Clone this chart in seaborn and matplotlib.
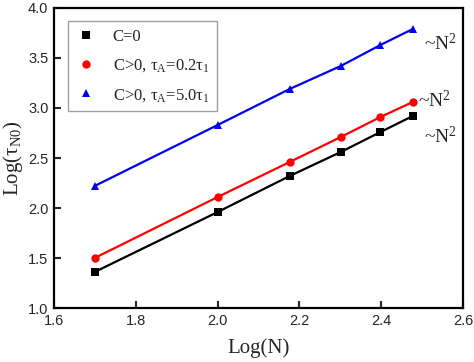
import matplotlib
matplotlib.use("Agg")
import matplotlib.pyplot as plt
from matplotlib.lines import Line2D
import seaborn as sns
import pandas as pd
import numpy as np

log_n = [1.699, 2.000, 2.176, 2.301, 2.398, 2.477]
c0 = [1.36, 1.96, 2.32, 2.56, 2.76, 2.92]
c_02 = [1.50, 2.11, 2.46, 2.71, 2.91, 3.06]
c_50 = [2.22, 2.83, 3.19, 3.42, 3.63, 3.79]
series_names = ["C=0", r"C>0, τ$_\mathrm{A}$=0.2τ$_\mathrm{1}$", r"C>0, τ$_\mathrm{A}$=5.0τ$_\mathrm{1}$"]
x_ticks = [1.6, 1.8, 2.0, 2.2, 2.4, 2.6]
y_ticks = [1.0, 1.5, 2.0, 2.5, 3.0, 3.5, 4.0]

sns.set_style("white")
plt.rcParams["font.family"] = ["DejaVu Sans"]
plt.rcParams["mathtext.fontset"] = "custom"
plt.rcParams["mathtext.rm"] = "Liberation Serif"
plt.rcParams["mathtext.it"] = "Liberation Serif:italic"

rows = []
for name, vals in zip(series_names, [c0, c_02, c_50]):
    for x, y in zip(log_n, vals):
        rows.append({"x": x, "y": y, "series": name})
df = pd.DataFrame(rows)

fig = plt.figure(figsize=(4.74, 3.62), dpi=100)
ax = fig.add_axes([0.114, 0.149, 0.863, 0.829])

colors = ["black", "red", "#0000ee"]
mk = ["s", "o", "^"]
palette = dict(zip(series_names, colors))
markers = dict(zip(series_names, mk))
sns.lineplot(data=df, x="x", y="y", hue="series", style="series",
             palette=palette, markers=markers, dashes=False,
             linewidth=1.6, markersize=6, markeredgewidth=0, ax=ax, legend=False)

ax.set_xlim(1.6, 2.6)
ax.set_ylim(1.0, 4.0)
ax.set_xticks(x_ticks)
ax.set_yticks(y_ticks)
ax.set_xticklabels([f"{t:.1f}" for t in x_ticks], fontsize=10.5, family="Liberation Sans")
ax.set_yticklabels([f"{t:.1f}" for t in y_ticks], fontsize=10.5, family="Liberation Sans")
ax.tick_params(direction="in", length=5, width=1.5, bottom=True, left=True, top=False, right=False, pad=4)
for s in ax.spines.values():
    s.set_linewidth(1.6)
    s.set_color("black")

ax.set_xlabel("Log(N)", fontsize=15, family="Liberation Serif", labelpad=8)
ax.set_ylabel(r"Log(τ$_\mathrm{N0}$)", fontsize=15, family="Liberation Serif", labelpad=2)

handles = [Line2D([], [], linestyle="None", marker=m, color=c, markersize=6, markeredgewidth=0)
           for m, c in zip(mk, colors)]
leg = ax.legend(handles, series_names, loc="upper left", bbox_to_anchor=(0.035, 0.955),
                prop={"family": "Liberation Serif", "size": 12},
                frameon=True, fancybox=False, edgecolor="#888888",
                handlelength=1.2, handletextpad=1.0, borderpad=0.45, labelspacing=0.75,
                borderaxespad=0)
leg.get_frame().set_linewidth(1.0)

for (xa, ya) in [(2.505, 3.64), (2.49, 3.07), (2.505, 2.72)]:
    ax.text(xa, ya, r"~N$^{2}$", fontsize=14, family="Liberation Serif", va="center", ha="left")

fig.savefig("out.png", dpi=100)
